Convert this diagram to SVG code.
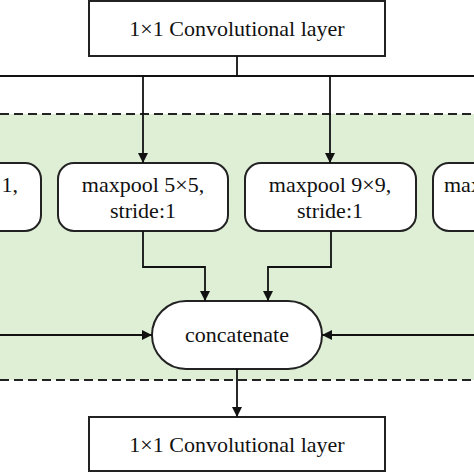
<svg xmlns="http://www.w3.org/2000/svg" width="474" height="474" viewBox="0 0 474 474">
<style>
.box{fill:#fff;stroke:#222;stroke-width:2}
.ln{fill:none;stroke:#111;stroke-width:1.8}
.dash{fill:none;stroke:#222;stroke-width:1.8;stroke-dasharray:9 5}
.t{font-family:"Liberation Serif","Times New Roman",serif;font-size:22px;fill:#111;text-anchor:middle}
</style>
<defs>
<marker id="ah" markerWidth="10" markerHeight="10" refX="10" refY="5" orient="auto" markerUnits="userSpaceOnUse">
<path d="M0,0 L10,5 L0,10 Z" fill="#111"/>
</marker>
</defs>
<rect width="474" height="474" fill="#fff"/>
<rect x="0" y="114" width="474" height="266" fill="#deefd6"/>
<line class="dash" x1="0" y1="114" x2="474" y2="114"/>
<line class="dash" x1="0" y1="380" x2="474" y2="380"/>
<rect x="89" y="0" width="296" height="2" fill="#666"/>
<g id="conv-top">
<rect class="box" x="89" y="1" width="296" height="55"/>
<text class="t" x="237" y="36">1×1 Convolutional layer</text>
</g>
<g id="pool-left">
<rect class="box" x="-130" y="163" width="171" height="68" rx="16"/>
<text class="t" x="18" y="192" style="text-anchor:end">maxpool 1×1,</text>
</g>
<g id="pool5">
<rect class="box" x="58" y="163" width="170" height="68" rx="16"/>
<text class="t" x="143" y="192">maxpool 5×5,</text>
<text class="t" x="143" y="218">stride:1</text>
</g>
<g id="pool9">
<rect class="box" x="245" y="163" width="171" height="68" rx="16"/>
<text class="t" x="330" y="192">maxpool 9×9,</text>
<text class="t" x="330" y="218">stride:1</text>
</g>
<g id="pool-right">
<rect class="box" x="433" y="163" width="171" height="68" rx="16"/>
<text class="t" x="444" y="192" style="text-anchor:start">maxpool 13×13,</text>
</g>
<g id="concat">
<rect class="box" x="152" y="301" width="170" height="68" rx="34"/>
<text class="t" x="237" y="342">concatenate</text>
</g>
<g id="conv-bottom">
<rect class="box" x="89" y="417" width="296" height="54"/>
<text class="t" x="237" y="452">1×1 Convolutional layer</text>
</g>
<g id="connectors">
<path class="ln" d="M237,56 V76 M0,76 H474"/>
<path class="ln" d="M143,76 V163" marker-end="url(#ah)"/>
<path class="ln" d="M330,76 V163" marker-end="url(#ah)"/>
<path class="ln" d="M143,231 V267 H205 V301" marker-end="url(#ah)"/>
<path class="ln" d="M331,231 V267 H268 V301" marker-end="url(#ah)"/>
<path class="ln" d="M0,335 H152" marker-end="url(#ah)"/>
<path class="ln" d="M474,335 H322" marker-end="url(#ah)"/>
<path class="ln" d="M237,369 V417" marker-end="url(#ah)"/>
</g>
</svg>
